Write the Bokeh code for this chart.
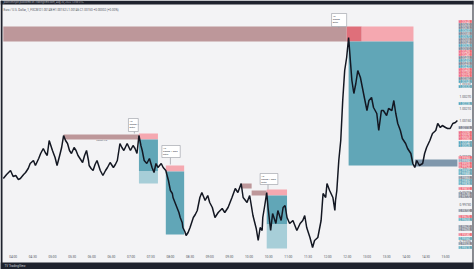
from bokeh.plotting import figure
from bokeh.models import Range1d, FixedTicker, Label, BoxAnnotation, ColumnDataSource, PrintfTickFormatter
from bokeh.embed import file_html
from bokeh.resources import INLINE
from bokeh.core.properties import value

# ---- price path (minutes after 04:00, EURUSD price) ----
minutes = [-15, -10, -4, 0, 4, 8, 11, 16, 19, 23, 26, 31, 34, 39, 42, 46, 49, 52, 55, 60,
           64, 67, 71, 74, 77, 80, 83, 86, 89, 93, 96, 99, 102, 106, 109, 112, 115, 116, 119, 122,
           125, 128, 133, 137, 141, 144, 148, 153, 156, 159, 163, 166, 169, 174, 179, 183, 186, 189, 192, 195,
           197, 200, 204, 208, 212, 215, 218, 221, 226, 229, 233, 237, 240, 243, 244, 247, 250, 253, 255, 258,
           259, 262, 264, 267, 270, 275, 278, 281, 285, 288, 293, 297, 300, 304, 308, 313, 319, 323, 328, 334,
           339, 343, 348, 351, 357, 358, 361, 366, 371, 374, 377, 380, 381, 384, 387, 389, 393, 396, 401, 404,
           409, 412, 415, 418, 422, 427, 433, 438, 442, 445, 448, 453, 457, 460, 465, 470, 473, 477, 479, 483,
           488, 491, 492, 494, 497, 500, 503, 506, 509, 512, 515, 517, 520, 523, 526, 530, 533, 536, 540, 543,
           547, 550, 555, 558, 562, 565, 570, 573, 578, 581, 584, 587, 591, 594, 599, 602, 607, 610, 613, 616,
           620, 625, 628, 631, 636, 640, 645, 648, 652, 655, 660, 663, 667, 671, 675, 678]
prices = [0.99860, 0.99880, 0.99900, 0.99870, 0.99875, 0.99855, 0.99860, 0.99880, 0.99890, 0.99910,
          0.99935, 0.99950, 0.99925, 0.99960, 0.99985, 1.00010, 0.99990, 0.99975, 1.00050, 1.00000,
          0.99965, 0.99925, 0.99975, 1.00015, 1.00075, 1.00050, 1.00035, 1.00000, 0.99985, 1.00015,
          1.00000, 0.99975, 0.99960, 0.99940, 0.99975, 1.00000, 0.99950, 0.99925, 0.99910, 0.99900,
          0.99930, 0.99950, 0.99900, 0.99875, 0.99900, 0.99915, 0.99940, 0.99915, 0.99930, 0.99950,
          1.00035, 1.00015, 1.00000, 1.00035, 1.00000, 1.00025, 1.00010, 0.99985, 1.00075, 1.00025,
          1.00000, 0.99950, 0.99935, 0.99960, 0.99915, 0.99890, 0.99935, 0.99915, 0.99935, 0.99915,
          0.99900, 0.99850, 0.99800, 0.99785, 0.99765, 0.99740, 0.99715, 0.99690, 0.99665, 0.99640,
          0.99615, 0.99595, 0.99575, 0.99590, 0.99615, 0.99665, 0.99680, 0.99700, 0.99765, 0.99790,
          0.99750, 0.99775, 0.99740, 0.99715, 0.99665, 0.99690, 0.99710, 0.99690, 0.99715, 0.99765,
          0.99810, 0.99790, 0.99835, 0.99765, 0.99740, 0.99750, 0.99775, 0.99675, 0.99610, 0.99550,
          0.99615, 0.99600, 0.99665, 0.99725, 0.99790, 0.99715, 0.99600, 0.99685, 0.99635, 0.99700,
          0.99650, 0.99715, 0.99725, 0.99665, 0.99635, 0.99650, 0.99600, 0.99635, 0.99650, 0.99675,
          0.99615, 0.99565, 0.99515, 0.99550, 0.99565, 0.99650, 0.99785, 0.99765, 0.99835, 0.99800,
          0.99765, 0.99700, 0.99750, 0.99800, 0.99950, 1.00050, 1.00250, 1.00400, 1.00465, 1.00565,
          1.00435, 1.00350, 1.00285, 1.00335, 1.00400, 1.00365, 1.00315, 1.00265, 1.00200, 1.00250,
          1.00265, 1.00215, 1.00185, 1.00100, 1.00200, 1.00200, 1.00175, 1.00210, 1.00200, 1.00250,
          1.00185, 1.00135, 1.00100, 1.00060, 1.00035, 1.00010, 0.99985, 0.99935, 0.99915, 0.99950,
          0.99925, 0.99935, 0.99985, 1.00015, 1.00050, 1.00085, 1.00100, 1.00135, 1.00115, 1.00125,
          1.00115, 1.00110, 1.00110, 1.00135, 1.00140, 1.00150]

# ---- axes ----
time_ticks = [0, 30, 60, 90, 120, 150, 180, 210, 240, 270, 300, 330, 360, 390, 420, 450,
              480, 510, 540, 570, 600, 630, 660]
time_labels = ["04:00", "04:30", "05:00", "05:30", "06:00", "06:30", "07:00", "07:30", "08:00",
               "08:30", "09:00", "09:30", "10:00", "10:30", "11:00", "11:30", "12:00", "12:30",
               "13:00", "13:30", "14:00", "14:30", "15:00"]
price_ticks = [0.99550, 0.99610, 0.99670, 0.99730, 0.99790, 0.99850, 0.99910, 0.99970, 1.00030,
               1.00090, 1.00150, 1.00210, 1.00270, 1.00330, 1.00390, 1.00450, 1.00510, 1.00570, 1.00630]

# ---- drawn zones (position tool / liquidity boxes) ----
zone_left = [-15, 509, 532, 512, 613, 77, 192, 192, 192, 233, 233, 348, 364, 387, 387, 387]
zone_right = [509, 532, 611, 611, 678, 192, 221, 221, 221, 261, 261, 364, 387, 418, 418, 418]
zone_top = [1.00620, 1.00620, 1.00620, 1.00545, 0.99955, 1.00080, 1.00085, 1.00055, 0.99895,
            0.99925, 0.99895, 0.99835, 0.99800, 0.99805, 0.99775, 0.99630]
zone_bottom = [1.00545, 1.00545, 1.00545, 0.99925, 0.99920, 1.00055, 1.00055, 0.99895, 0.99835,
               0.99895, 0.99580, 0.99810, 0.99775, 0.99775, 0.99630, 0.99510]
zone_kind = ["liq", "stop", "risk", "reward", "exit", "liq", "risk", "reward", "reward_light",
             "risk", "reward", "liq", "liq", "risk", "reward", "reward_light"]

# ---- callouts ----
note_left = [176, 227, 377, 486]
note_right = [191, 255, 404, 509]
note_top = [1.00160, 1.00025, 0.99885, 1.00685]
note_bottom = [1.00095, 0.99965, 0.99830, 1.00620]
note_tip_x = [185, 240, 389, 497]
note_tip_y = [1.00085, 0.99930, 0.99805, 1.00612]
note_text = ["1R\nSweep +\nEntry", "1R\nSweep + MSS\nentry", "1R\nSweep + MSS\nentry", "1R\nSweep\nEntry"]

# ---- price scale tags ----
tag_prices = [1.00645, 1.00630, 1.00615, 1.00600, 1.00585, 1.00570, 1.00555, 1.00540, 1.00525,
              1.00510, 1.00495, 1.00480, 1.00465, 1.00450, 1.00435, 1.00420, 1.00405, 1.00390,
              1.00375, 1.00360, 1.00345, 1.00320, 1.00235, 1.00115, 1.00090, 1.00075, 1.00060,
              1.00040, 1.00025, 0.99965, 0.99950, 0.99935, 0.99920, 0.99900, 0.99885, 0.99865,
              0.99850, 0.99835, 0.99810, 0.99785, 0.99770, 0.99700, 0.99670, 0.99655, 0.99620,
              0.99605, 0.99580, 0.99560, 0.99535, 0.99515]
tag_kind = ["R", "G", "G", "T", "G", "T", "G", "G", "T", "G", "R", "R", "G", "T", "G", "T", "R",
            "R", "R", "G", "T", "T", "T", "G", "R", "R", "R", "T", "T", "R", "S", "R", "R", "T",
            "T", "G", "T", "T", "R", "G", "G", "G", "R", "T", "G", "G", "R", "T", "G", "T"]

ZONE_COLORS = {"liq": "#bd979a", "stop": "#df6f7a", "risk": "#f5a8b0", "reward": "#61a6b7",
               "reward_light": "#a7ced8", "exit": "#7f97ac"}
TAG_COLORS = {"R": "#ee5d6c", "G": "#787c88", "T": "#4f9caf", "S": "#7f97ac"}
FONT = "Roboto"

# The plot frame fills the whole canvas; the axes draw their labels inward.
p = figure(width=474, height=269, output_backend="svg", toolbar_location=None, title=None,
           x_range=Range1d(-19.3, 702.6), y_range=Range1d(0.99405, 1.00750),
           y_axis_location="right", min_border_left=0, min_border_right=0,
           min_border_top=0, min_border_bottom=0)
p.background_fill_color = "#f3f3f5"
p.border_fill_color = "#f3f3f5"
p.outline_line_color = None
p.grid.visible = False

p.xaxis.ticker = FixedTicker(ticks=time_ticks)
p.xaxis.major_label_overrides = {t: l for t, l in zip(time_ticks, time_labels)}
p.yaxis.ticker = FixedTicker(ticks=price_ticks)
p.yaxis.formatter = PrintfTickFormatter(format="%.5f")
for ax in (p.xaxis[0], p.yaxis[0]):
    ax.axis_line_color = None
    ax.major_tick_line_color = None
    ax.minor_tick_line_color = None
    ax.major_tick_out = 0
    ax.major_tick_in = 0
    ax.major_label_text_font = FONT
    ax.major_label_text_color = "#50535e"
    ax.major_label_text_font_size = "3.2px"
p.xaxis.major_label_standoff = -15
p.yaxis.major_label_standoff = -14

zsrc = ColumnDataSource(dict(left=zone_left, right=zone_right, top=zone_top, bottom=zone_bottom,
                             color=[ZONE_COLORS[k] for k in zone_kind]))
p.quad(left="left", right="right", top="top", bottom="bottom", fill_color="color",
       line_color=None, source=zsrc)

p.text(x=[135], y=[1.00050], text=["Swept Liq"], text_font=value(FONT), text_font_size="2.5px",
       text_color="#6b6e78", text_align="center", text_baseline="middle")

p.line(minutes, prices, line_color="#131722", line_width=1.5)

nsrc = ColumnDataSource(dict(left=note_left, right=note_right, top=note_top, bottom=note_bottom,
                             tx=note_tip_x, ty=note_tip_y, text=note_text,
                             tl=[l + 1 for l in note_left]))
p.segment(x0="tx", y0="bottom", x1="tx", y1="ty", line_color="#9598a1", line_width=0.7, source=nsrc)
p.quad(left="left", right="right", top="top", bottom="bottom", fill_color="white",
       line_color="#9598a1", line_width=0.6, source=nsrc)
p.text(x="tl", y="top", text="text", text_font=value(FONT), text_font_size="2.4px",
       text_color="#2a2e39", text_baseline="top", x_offset=0.5, y_offset=1, source=nsrc)

# price-scale tags, drawn over the axis labels
half = 0.00007
tsrc = ColumnDataSource(dict(y=tag_prices, top=[v + half for v in tag_prices],
                             bottom=[v - half for v in tag_prices],
                             color=[TAG_COLORS[k] for k in tag_kind],
                             text=[f"{v:.5f}" for v in tag_prices]))
p.quad(left=680, right=700, top="top", bottom="bottom", fill_color="color", line_color=None,
       source=tsrc, level="overlay")
p.text(x=681, y="y", text="text", text_font=value(FONT), text_font_size="3px",
       text_color="white", text_baseline="middle", source=tsrc, level="overlay")

# frame chrome (dark bars), screen units relative to the frame
for l, r, b, t in [(0, 474, 265, 269), (0, 474, 0, 7), (0, 2, 0, 269), (472, 474, 0, 269)]:
    p.add_layout(BoxAnnotation(left=l, right=r, bottom=b, top=t, left_units="screen",
                               right_units="screen", bottom_units="screen", top_units="screen",
                               fill_color="#1e222d", fill_alpha=1.0, line_color=None))

p.add_layout(Label(x=3, y=267, x_units="screen", y_units="screen",
                   text="jasonliminjon published on TradingView.com, Aug 30, 2022 13:56 UTC",
                   text_font=FONT, text_font_size="2.6px", text_color="#b2b5be", text_baseline="middle"))
p.add_layout(Label(x=3, y=260, x_units="screen", y_units="screen",
                   text="Euro / U.S. Dollar, 1, FXCM  O1.00148 H1.00152 L1.00146 C1.00150 +0.00002 (+0.00%)",
                   text_font=FONT, text_font_size="3px", text_color="#50535e", text_baseline="middle"))
p.add_layout(Label(x=4, y=3.5, x_units="screen", y_units="screen", text="TV  TradingView",
                   text_font=FONT, text_font_size="3px", text_color="#d1d4dc", text_baseline="middle"))

open("out.html", "w").write(file_html(p, INLINE))
